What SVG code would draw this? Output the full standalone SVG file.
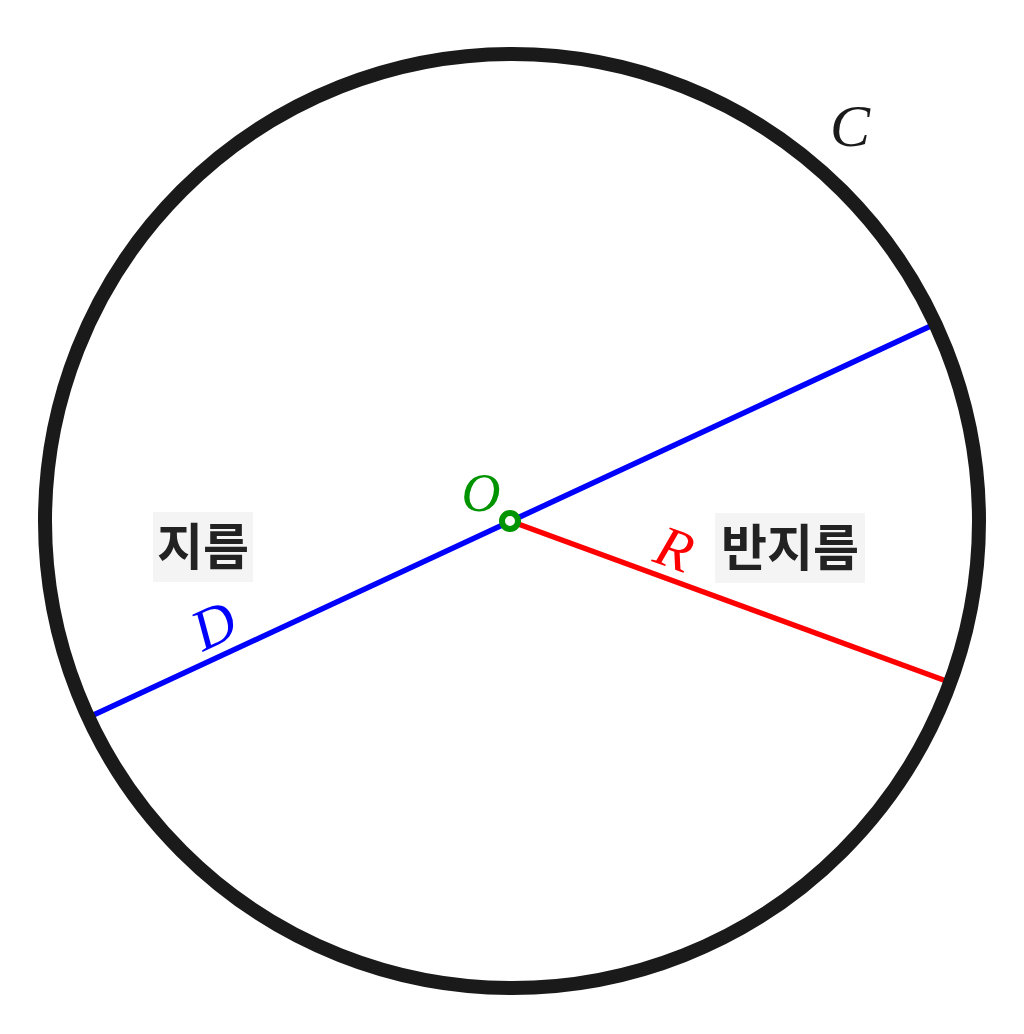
<svg xmlns="http://www.w3.org/2000/svg" width="1024" height="1034" viewBox="0 0 1024 1034">
<style>
.lbl{font-family:"Liberation Serif","DejaVu Serif",serif;font-style:italic}
.kr{font-family:"Noto Sans CJK KR","Noto Sans",sans-serif;font-weight:bold;font-size:50px;fill:#222222}
.box{fill:#f4f4f4}
</style>
<rect width="1024" height="1034" fill="#ffffff"/>
<g id="connectors">
<line id="diameter" x1="87" y1="718" x2="935" y2="324" stroke="#0000ff" stroke-width="5.5"/>
<line id="radius" x1="510" y1="521" x2="949" y2="682" stroke="#ff0000" stroke-width="5.5"/>
</g>
<g id="circle">
<circle cx="512" cy="521" r="467" fill="none" stroke="#1a1a1a" stroke-width="14"/>
<text class="lbl" x="850" y="146" font-size="60" text-anchor="middle" fill="#1a1a1a">C</text>
</g>
<g id="center">
<circle cx="510" cy="521" r="8" fill="#ffffff" stroke="#009400" stroke-width="6"/>
<text class="lbl" x="481" y="511" font-size="54" text-anchor="middle" fill="#009400">O</text>
</g>
<g id="label-D">
<text class="lbl" transform="translate(222,643) rotate(-25)" font-size="58" text-anchor="middle" fill="#0000ff">D</text>
</g>
<g id="label-R">
<text class="lbl" transform="translate(668,567) rotate(20)" font-size="58" text-anchor="middle" fill="#ff0000">R</text>
</g>
<g id="label-diameter">
<rect class="box" x="153" y="512" width="100" height="70"/>
<text class="kr" x="203" y="565" text-anchor="middle">지름</text>
</g>
<g id="label-radius">
<rect class="box" x="715" y="513" width="150" height="70"/>
<text class="kr" x="790" y="566" text-anchor="middle">반지름</text>
</g>
</svg>
